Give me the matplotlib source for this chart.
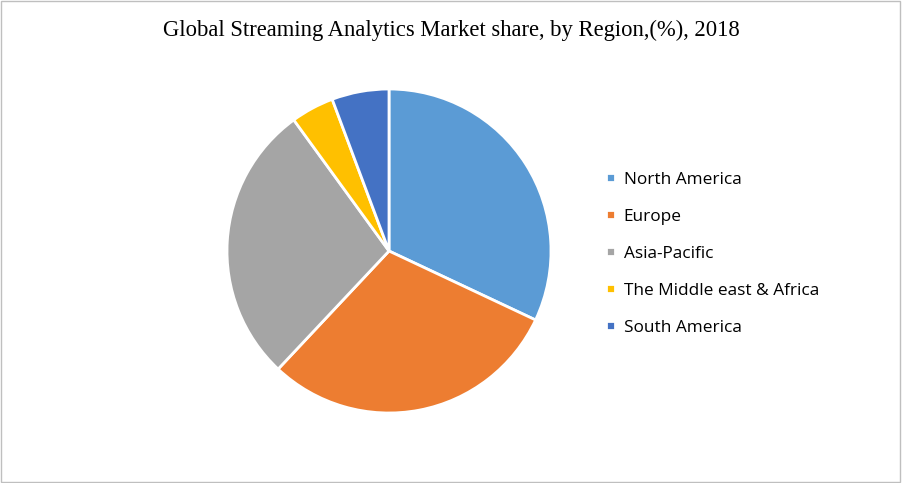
import matplotlib
matplotlib.use("Agg")
import matplotlib.pyplot as plt
from matplotlib.patches import Rectangle

regions = ["North America", "Europe", "Asia-Pacific", "The Middle east & Africa", "South America"]
shares = [32, 30, 28, 4.3, 5.7]
colors = ["#5B9BD5", "#ED7D31", "#A5A5A5", "#FFC000", "#4472C4"]

fig = plt.figure(figsize=(9.02, 4.83), dpi=100)
fig.patches.append(Rectangle((0.001, 0.002), 0.997, 0.995, transform=fig.transFigure,
                             fill=False, edgecolor="#BFBFBF", linewidth=1))
fig.text(0.5, 0.937, "Global Streaming Analytics Market share, by Region,(%), 2018",
         ha="center", va="center", fontsize=16.3, family="Liberation Serif")
ax = fig.add_axes([389/902 - 162/902, 1 - (251+162)/483, 324/902, 324/483])
wedges, _ = ax.pie(shares, colors=colors, startangle=90, counterclock=False,
                   wedgeprops=dict(edgecolor="white", linewidth=2))
ax.set_xlim(-1.0, 1.0)
ax.set_ylim(-1.0, 1.0)
ax.set_aspect("equal")
leg = fig.legend(wedges, regions, loc="center left", bbox_to_anchor=(0.655, 0.475),
                 frameon=False, handlelength=0.5, handleheight=0.5,
                 labelspacing=1.22, handletextpad=0.5,
                 prop={"family": "Open Sans", "size": 12.4})
fig.savefig("out.png", dpi=100)
